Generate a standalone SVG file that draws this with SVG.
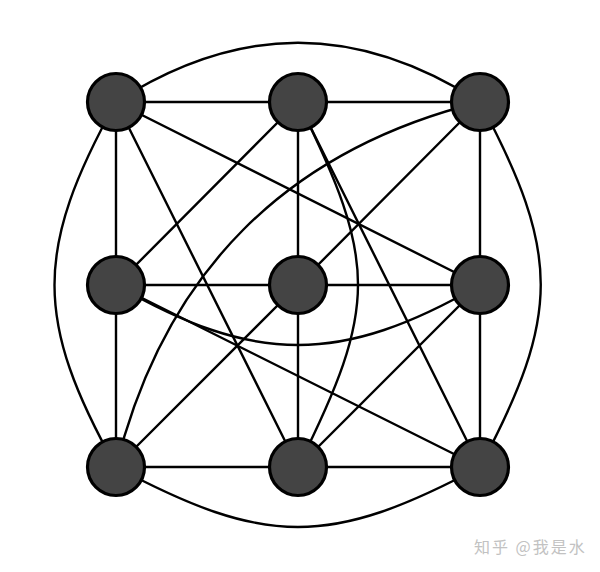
<svg xmlns="http://www.w3.org/2000/svg" width="600" height="572" viewBox="0 0 600 572">
<style>
.e{fill:none;stroke:#000;stroke-width:2.4;stroke-linecap:round}
.n{fill:#444;stroke:#000;stroke-width:3.2}
.w{font-family:"Noto Sans CJK SC","Noto Sans",sans-serif;font-size:16px;letter-spacing:2px;fill:#c2c2c2}
</style>
<rect width="600" height="572" fill="#fff"/>
<g id="connectors">
<line class="e" x1="116" y1="102" x2="298" y2="102"/>
<line class="e" x1="298" y1="102" x2="480" y2="102"/>
<line class="e" x1="116" y1="285" x2="298" y2="285"/>
<line class="e" x1="298" y1="285" x2="480" y2="285"/>
<line class="e" x1="116" y1="467" x2="298" y2="467"/>
<line class="e" x1="298" y1="467" x2="480" y2="467"/>
<line class="e" x1="116" y1="102" x2="116" y2="285"/>
<line class="e" x1="116" y1="285" x2="116" y2="467"/>
<line class="e" x1="298" y1="102" x2="298" y2="285"/>
<line class="e" x1="298" y1="285" x2="298" y2="467"/>
<line class="e" x1="480" y1="102" x2="480" y2="285"/>
<line class="e" x1="480" y1="285" x2="480" y2="467"/>
<line class="e" x1="116" y1="102" x2="480" y2="285"/>
<line class="e" x1="116" y1="102" x2="298" y2="467"/>
<line class="e" x1="298" y1="102" x2="116" y2="285"/>
<line class="e" x1="298" y1="102" x2="480" y2="467"/>
<line class="e" x1="480" y1="102" x2="298" y2="285"/>
<line class="e" x1="116" y1="285" x2="480" y2="467"/>
<line class="e" x1="298" y1="285" x2="116" y2="467"/>
<line class="e" x1="480" y1="285" x2="298" y2="467"/>
<path class="e" d="M116,102 C239,23 357,23 480,102"/>
<path class="e" d="M116,467 C266,547 330,547 480,467"/>
<path class="e" d="M116,102 C34,250 34,320 116,467"/>
<path class="e" d="M480,102 C561,254 561,315 480,467"/>
<path class="e" d="M480,102 C286,150 164,273 116,467"/>
<path class="e" d="M298,102 C378,262 378,307 298,467"/>
<path class="e" d="M116,285 C255,365 341,365 480,285"/>
</g>
<g id="n1"><circle class="n" cx="116" cy="102" r="28.5"/></g>
<g id="n2"><circle class="n" cx="298" cy="102" r="28.5"/></g>
<g id="n3"><circle class="n" cx="480" cy="102" r="28.5"/></g>
<g id="n4"><circle class="n" cx="116" cy="285" r="28.5"/></g>
<g id="n5"><circle class="n" cx="298" cy="285" r="28.5"/></g>
<g id="n6"><circle class="n" cx="480" cy="285" r="28.5"/></g>
<g id="n7"><circle class="n" cx="116" cy="467" r="28.5"/></g>
<g id="n8"><circle class="n" cx="298" cy="467" r="28.5"/></g>
<g id="n9"><circle class="n" cx="480" cy="467" r="28.5"/></g>
<text class="w" x="474" y="553">知乎 @我是水</text>
</svg>
